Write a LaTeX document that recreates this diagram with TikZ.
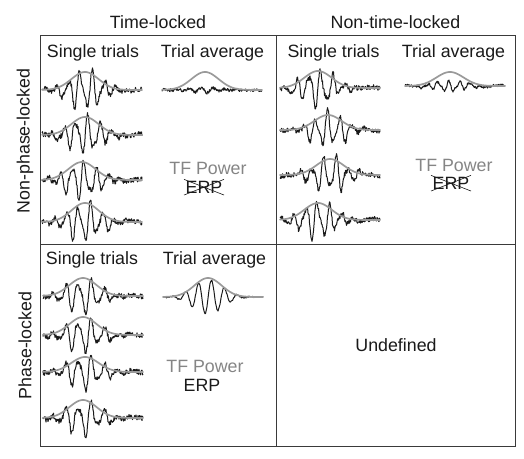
\documentclass[tikz,border=0pt]{standalone}
\usepackage{fontspec}
\setmainfont{Liberation Sans}
\usepackage{xcolor}
\usepackage{tikz}
\usetikzlibrary{positioning}
\definecolor{ink}{HTML}{1A1A1A}
\definecolor{rulegray}{HTML}{3A3A3A}
\definecolor{envgray}{HTML}{9A9A9A}
\definecolor{tfgray}{HTML}{858585}
\tikzset{
  every node/.style={font=\fontsize{17.8}{20}\selectfont,text=ink,inner sep=0pt},
  hdr/.style={anchor=base},
  sub/.style={anchor=base},
  rowlab/.style={rotate=90},
  tfpow/.style={anchor=base,text=tfgray},
  erplab/.style={inner sep=1.5pt},
  cross/.style={draw=ink,line width=0.6pt},
  frame/.style={draw=rulegray,line width=1pt},
  sig/.style={draw=ink,line width=1pt,line join=round},
  env/.style={draw=envgray,line width=1.7pt,line cap=round}
}
% single trial: x0, baseline, centre, envelope height, amplitude, phase, noise, seed, freq
\newcommand{\sigtrace}[9]{%
  \pgfmathsetseed{#8}
  \draw[sig] plot[domain=0:100,samples=201,variable=\t]
    ({#1+\t},{#2+#5*exp(-(\t-#3)*(\t-#3)/520)*(sin(#9*\t+#6)+0.35*sin(1.7*#9*\t+2*#6))
      +0.9*sin(11*\t+3*#6)+#7*rand});
  \draw[env] plot[domain=0:100,samples=80,smooth,variable=\t]
    ({#1+\t},{#2+#4*exp(-(\t-#3)*(\t-#3)/370)});
}
% trial average: same arguments, no extra wander
\newcommand{\avgtrace}[9]{%
  \pgfmathsetseed{#8}
  \draw[sig] plot[domain=0:100,samples=201,variable=\t]
    ({#1+\t},{#2+#5*exp(-(\t-#3)*(\t-#3)/420)*sin(#9*\t+#6)+#7*rand});
  \draw[env] plot[domain=0:100,samples=80,smooth,variable=\t]
    ({#1+\t},{#2+#4*exp(-(\t-#3)*(\t-#3)/370)});
}

\begin{document}
\begin{tikzpicture}[x=1pt,y=1pt]
  \useasboundingbox (0,0) rectangle (524,458);

  % grid
  \draw[frame] (40,12) rectangle (515,422);
  \draw[frame] (276,12) -- (276,422);
  \draw[frame] (40,213) -- (515,213);

  \node[hdr] (colTL) at (158,429.5) {Time-locked};
  \node[hdr] (colNTL) at (395.5,429.5) {Non-time-locked};
  \node[rowlab] (rowNPL) at (25,317) {Non-phase-locked};
  \node[rowlab] (rowPL) at (25,112.5) {Phase-locked};

  \node[sub] (stTL) at (93,400) {Single trials};
  \node[sub] (taTL) at (212.5,400) {Trial average};
  \node[sub] (stTR) at (333.5,400) {Single trials};
  \node[sub] (taTR) at (453.5,400) {Trial average};
  \node[sub] (stBL) at (92,193.7) {Single trials};
  \node[sub] (taBL) at (214.5,193.7) {Trial average};

  % measures
  \node[tfpow] (tfTL) at (208,283) {TF Power};
  \node[erplab,below=4pt of tfTL,xshift=-4pt] (erpTL) {ERP};
  \draw[cross] (erpTL.north west) -- (erpTL.south east) (erpTL.south west) -- (erpTL.north east);
  \node[tfpow] (tfTR) at (454,286.3) {TF Power};
  \node[erplab,below=3.3pt of tfTR,xshift=-3pt] (erpTR) {ERP};
  \draw[cross] (erpTR.north west) -- (erpTR.south east) (erpTR.south west) -- (erpTR.north east);
  \node[tfpow] (tfBL) at (205,86) {TF Power};
  \node[erplab,below=4.7pt of tfBL,xshift=-3pt] (erpBL) {ERP};
  \node[sub] (undef) at (396,107) {Undefined};

  % time-locked, non-phase-locked
  \sigtrace{42}{368}{43}{18}{17}{20}{2.6}{11}{30}
  \sigtrace{42}{323}{43}{18}{16}{150}{2.6}{12}{30}
  \sigtrace{42}{278}{40}{18}{16}{260}{2.6}{13}{30}
  \sigtrace{42}{236}{43}{19}{17}{70}{2.6}{14}{30}
  \avgtrace{162}{368}{43}{18}{2.5}{0}{1.6}{21}{30}

  % non-time-locked
  \sigtrace{280}{370}{38}{17}{16}{300}{2.6}{15}{30}
  \sigtrace{280}{328}{48}{15}{15}{100}{2.6}{16}{30}
  \sigtrace{280}{283}{50}{16}{16}{210}{2.6}{17}{30}
  \sigtrace{280}{238}{38}{17}{16}{40}{2.6}{18}{30}
  \sigtrace{405}{372}{45}{14}{4.5}{40}{1.4}{22}{34}

  % phase-locked
  \sigtrace{43}{162}{40}{18}{15}{187}{2.6}{31}{27.7}
  \sigtrace{43}{123}{40}{18}{15}{187}{2.6}{32}{27.7}
  \sigtrace{43}{86}{42}{15}{15}{187}{2.6}{33}{27.7}
  \sigtrace{43}{40}{40}{18}{15}{187}{2.6}{34}{27.7}
  \avgtrace{163}{161}{45}{19}{17}{187}{0.7}{23}{27.7}
\end{tikzpicture}
\end{document}
